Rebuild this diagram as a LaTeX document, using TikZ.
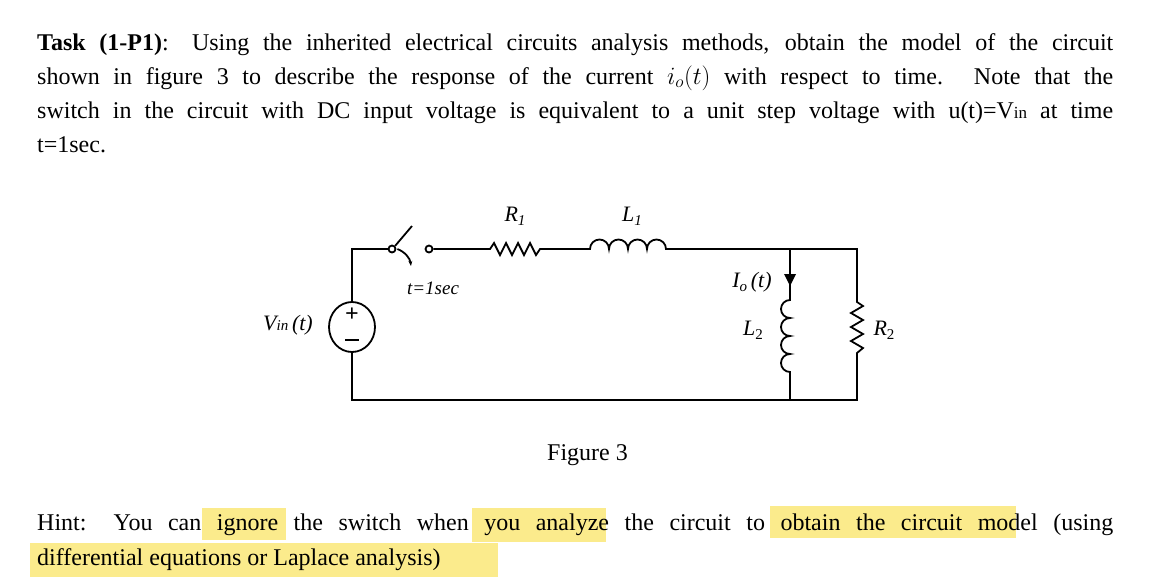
\documentclass[tikz,border=0pt]{standalone}
\usepackage{fontspec}
\setmainfont{Liberation Serif}
\usetikzlibrary{arrows.meta,shapes.geometric}
\definecolor{hl}{HTML}{FBEB8C}
\tikzset{wire/.style={line width=1.8pt},
 line/.style={anchor=base west,inner sep=0pt,font=\fontsize{24}{30}\selectfont},
 lab/.style={font=\fontsize{22}{26}\selectfont\itshape,inner sep=0pt}}
\begin{document}
\begin{tikzpicture}[x=1pt,y=-1pt]
\useasboundingbox (0,0) rectangle (1156,582);
\fill[white] (0,0) rectangle (1156,582);
% highlights
\fill[hl] (202,508) rectangle (286,540);
\fill[hl] (472,508) rectangle (606,542);
\fill[hl] (770,506) rectangle (1016,538);
\fill[hl] (30,543) rectangle (498,577);
% text
\node[line] (l1) at (37,50) {\makebox[1076pt][s]{\textbf{Task (1-P1)}: Using the inherited electrical circuits analysis methods, obtain the model of the circuit}};
\node[line] (l2) at (37,84) {\makebox[1076pt][s]{shown in figure 3 to describe the response of the current $i_o(t)$ with respect to time. Note that the}};
\node[line] (l3) at (37,118) {\makebox[1076pt][s]{switch in the circuit with DC input voltage is equivalent to a unit step voltage with u(t)=V{\fontsize{17}{20}\selectfont in} at time}};
\node[line] (l4) at (37,152) {t=1sec.};
\node[line] (fig) at (547,460) {Figure 3};
\node[line] (h1) at (37,530) {\makebox[1076pt][s]{Hint: You can ignore the switch when you analyze the circuit to obtain the circuit model (using}};
\node[line] (h2) at (37,565) {differential equations or Laplace analysis)};
% circuit
\coordinate (tl) at (352,249);
\coordinate (bl) at (352,400);
\coordinate (j) at (790,249);
\coordinate (jb) at (790,400);
\coordinate (tr) at (857,249);
\coordinate (br) at (857,400);
\node[draw,wire,ellipse,minimum width=46pt,minimum height=50pt,inner sep=0pt] (src) at (352,327) {};
\node[font=\fontsize{24}{24}\selectfont\bfseries] at (352,315) {+};
\draw[line width=2.4pt] (345,340) -- (359,340);
\node[draw,wire,circle,minimum size=7pt,inner sep=0pt,fill=white] (s1) at (392,249) {};
\node[draw,wire,circle,minimum size=7pt,inner sep=0pt,fill=white] (s2) at (429,249) {};
\draw[wire] (src.north) -- (tl) -- (s1.west);
\draw[wire] (s1.north east) -- (412,226);
\draw[wire,-{Stealth[length=5pt]}] (s1.east) ++(1,0) .. controls (405,252) and (410,258) .. (411,266);
\draw[wire] (s2.east) -- (490,249)
  -- (494,243) -- (500,255) -- (506,243) -- (512,255) -- (518,243) -- (524,255) -- (530,243) -- (536,255) -- (540,249)
  -- (590,249)
  arc[start angle=180,end angle=360,radius=9.5] arc[start angle=180,end angle=360,radius=9.5]
  arc[start angle=180,end angle=360,radius=9.5] arc[start angle=180,end angle=360,radius=9.5]
  -- (tr) -- (857,302)
  -- (863,306) -- (851,313) -- (863,320) -- (851,327) -- (863,334) -- (851,341) -- (863,348) -- (857,353)
  -- (br) -- (bl) -- (src.south);
\draw[wire] (j) -- (790,300)
  arc[start angle=-90,end angle=-270,radius=9] arc[start angle=-90,end angle=-270,radius=9]
  arc[start angle=-90,end angle=-270,radius=9] arc[start angle=-90,end angle=-270,radius=9] -- (jb);
\fill (784,274) -- (796,274) -- (790,286) -- cycle;
\node[lab] at (288,325) {V{\fontsize{15}{15}\selectfont\itshape in}\,(t)};
\node[lab,font=\fontsize{19}{22}\selectfont\itshape] at (433,288) {t=1sec};
\node[lab] at (515,216) {R\raisebox{-4pt}{\fontsize{15}{15}\selectfont 1}};
\node[lab] at (632,216) {L\raisebox{-4pt}{\fontsize{15}{15}\selectfont 1}};
\node[lab] at (752,282) {I\raisebox{-4pt}{\fontsize{15}{15}\selectfont o}\,(t)};
\node[lab] at (753,330) {L\raisebox{-4pt}{\fontsize{15}{15}\selectfont\upshape 2}};
\node[lab] at (884,330) {R\raisebox{-4pt}{\fontsize{15}{15}\selectfont\upshape 2}};
\end{tikzpicture}
\end{document}
